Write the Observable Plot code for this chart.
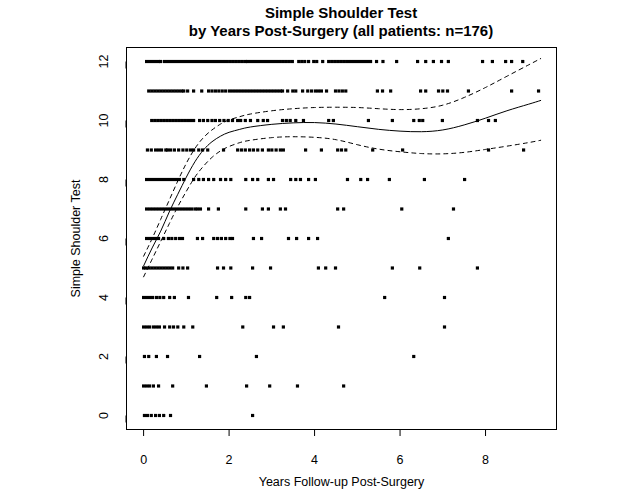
<!DOCTYPE html>
<html>
<head>
<meta charset="utf-8">
<script src="https://cdn.jsdelivr.net/npm/d3@7"></script>
<script src="https://cdn.jsdelivr.net/npm/@observablehq/plot@0.6"></script>
<style>
  html, body { margin: 0; padding: 0; background: #fff; }
  #wrap { position: relative; width: 640px; height: 491px; font-family: "Liberation Sans", Arial, sans-serif; }
  #title { position: absolute; left: 141px; width: 400px; top: 4px; text-align: center; font-weight: bold; font-size: 15px; line-height: 18px; color: #000; }
  #chart { position: absolute; left: 0; top: 0; }
</style>
</head>
<body>
<div id="wrap">
  <div id="chart"></div>
  <div id="title">Simple Shoulder Test<br>by Years Post-Surgery (all patients: n=176)</div>
</div>
<script>
// Simple Shoulder Test score levels and the follow-up years (x) of observations at each level
const row12 = [0.07,0.14,0.21,0.28,0.35,0.40,0.49,0.56,0.63,0.70,0.77,0.84,0.91,0.98,1.05,1.12,1.19,1.26,1.33,1.40,1.47,1.54,1.61,1.68,1.75,1.82,1.89,1.96,2.03,2.10,2.17,2.24,2.31,2.38,2.43,2.50,2.57,2.64,2.71,2.78,2.85,2.92,2.99,3.06,3.13,3.20,3.27,3.34,3.41,3.48,3.63,3.70,3.77,3.86,3.98,4.05,4.19,4.33,4.40,4.47,4.54,4.61,4.68,4.75,4.82,4.89,4.96,5.03,5.10,5.17,5.24,5.31,5.45,5.60,5.92,6.41,6.60,6.78,6.97,7.13,7.93,8.16,8.47,8.61,8.87];
const row11 = [0.12,0.19,0.26,0.33,0.40,0.47,0.54,0.61,0.68,0.75,0.82,0.89,0.94,1.03,1.17,1.36,1.52,1.60,1.68,1.76,1.84,1.92,2.01,2.08,2.15,2.22,2.29,2.36,2.43,2.50,2.57,2.64,2.71,2.78,2.85,2.92,2.99,3.06,3.13,3.20,3.25,3.37,3.49,3.56,3.72,3.84,3.93,4.02,4.09,4.16,4.28,4.49,4.57,4.65,4.73,5.47,5.59,5.78,6.48,6.60,6.90,7.00,7.11,7.60,8.61,9.24];
const row10 = [0.19,0.26,0.33,0.40,0.47,0.54,0.61,0.68,0.75,0.82,0.89,0.96,1.03,1.10,1.17,1.31,1.40,1.50,1.60,1.68,1.78,1.88,1.98,2.08,2.20,2.27,2.38,2.50,2.67,2.80,2.90,3.25,3.34,3.43,3.56,3.74,4.33,4.44,5.26,5.82,6.32,6.45,6.53,6.99,7.81,8.07,8.23];
const row9 = [0.09,0.18,0.28,0.35,0.42,0.52,0.56,0.63,0.72,0.82,0.92,1.01,1.10,1.17,1.29,1.38,1.50,1.87,2.20,2.29,2.38,2.48,2.57,2.67,2.78,2.92,3.00,3.10,3.20,3.27,3.79,4.16,4.54,4.63,4.73,5.36,6.06,8.07,8.89];
const row8 = [0.07,0.14,0.21,0.28,0.35,0.42,0.49,0.56,0.63,0.70,0.77,0.84,0.94,1.17,1.29,1.40,1.52,1.64,1.80,1.92,2.04,2.39,2.55,2.67,2.92,3.04,3.44,3.56,3.67,3.86,4.02,4.77,5.08,5.24,5.75,6.57,7.51];
const row7 = [0.07,0.14,0.21,0.28,0.35,0.42,0.49,0.56,0.63,0.70,0.77,0.84,0.91,0.98,1.05,1.12,1.20,1.26,1.33,1.52,1.75,2.39,2.78,2.92,3.20,3.32,4.54,4.68,6.04,7.25];
const row6 = [0.07,0.14,0.21,0.28,0.35,0.47,0.58,0.66,0.75,0.84,0.91,1.26,1.38,1.64,1.73,1.82,1.92,2.02,2.08,2.57,2.76,3.39,3.58,3.86,4.07,7.13];
const row5 = [0.00,0.05,0.12,0.19,0.26,0.33,0.40,0.47,0.54,0.61,0.68,0.82,0.92,1.03,1.73,1.87,2.04,2.55,2.97,4.09,4.26,4.49,5.82,6.46,7.81];
const row4 = [0.00,0.07,0.14,0.21,0.30,0.38,0.47,0.61,0.72,1.05,1.71,2.06,2.39,2.48,5.64,7.04];
const row3 = [0.00,0.07,0.14,0.23,0.30,0.37,0.49,0.61,0.70,0.80,0.94,1.15,2.32,3.04,3.27,4.56,7.04];
const row2 = [0.02,0.12,0.30,0.56,1.31,2.64,6.32];
const row1 = [0.00,0.07,0.14,0.23,0.35,0.68,1.47,2.41,2.95,3.60,4.68];
const row0 = [0.02,0.09,0.18,0.28,0.37,0.47,0.63,2.55];
const scoreRows = [row0,row1,row2,row3,row4,row5,row6,row7,row8,row9,row10,row11,row12];

// Smoothed fit and its confidence band
const curveX = [0,0.2,0.4,0.6,0.8,1.0,1.2,1.4,1.6,1.8,2.0,2.25,2.5,3.0,3.5,4.0,4.5,5.0,5.5,6.0,6.5,7.0,7.5,8.0,8.5,9.0,9.29];
const fitY   = [5.07,5.68,6.25,6.9,7.5,8.08,8.6,9.0,9.28,9.47,9.6,9.7,9.78,9.87,9.92,9.93,9.88,9.79,9.7,9.64,9.62,9.68,9.85,10.08,10.33,10.55,10.68];
const upperY = [5.4,6.0,6.65,7.3,7.95,8.55,9.05,9.42,9.68,9.88,10.02,10.13,10.22,10.33,10.4,10.44,10.45,10.44,10.4,10.37,10.4,10.52,10.78,11.12,11.5,11.88,12.1];
const lowerY = [4.7,5.3,5.9,6.5,7.08,7.6,8.08,8.45,8.75,8.97,9.12,9.25,9.33,9.42,9.45,9.43,9.35,9.18,9.03,8.94,8.88,8.87,8.92,9.02,9.13,9.25,9.33];

const xTicks = [0,2,4,6,8];
const yTicks = [0,2,4,6,8,10,12];

const points = scoreRows.flatMap((xs, score) => xs.map(x => ({x, score})));
const fit = curveX.map((x, i) => ({x, y: fitY[i]}));
const upper = curveX.map((x, i) => ({x, y: upperY[i]}));
const lower = curveX.map((x, i) => ({x, y: lowerY[i]}));

const chart = Plot.plot({
  width: 640,
  height: 491,
  marginLeft: 126,
  marginRight: 84,
  marginTop: 47,
  marginBottom: 62,
  style: {fontFamily: "Liberation Sans, Arial, sans-serif", fontSize: "12.5px", color: "#000", background: "#fff"},
  x: {domain: [-0.40, 9.66]},
  y: {domain: [-0.475, 12.475]},
  marks: [
    Plot.frame({stroke: "#000", strokeWidth: 1}),
    Plot.axisX({ticks: xTicks, tickSize: 7, tickPadding: 19, tickFormat: d => String(d),
      label: "Years Follow-up Post-Surgery", labelAnchor: "center", labelArrow: "none", labelOffset: 56}),
    Plot.axisY({ticks: yTicks, tickSize: 7, tickPadding: 16, tickFormat: d => String(d),
      rotate: -90, textAnchor: "middle", lineAnchor: "middle",
      label: "Simple Shoulder Test", labelAnchor: "center", labelArrow: "none", labelOffset: 55}),
    Plot.dot(points, {x: "x", y: "score", symbol: "square", r: 1.8, fill: "#000", stroke: null}),
    Plot.line(fit, {x: "x", y: "y", curve: "natural", stroke: "#000", strokeWidth: 1}),
    Plot.line(upper, {x: "x", y: "y", curve: "natural", stroke: "#000", strokeWidth: 1, strokeDasharray: "4,4"}),
    Plot.line(lower, {x: "x", y: "y", curve: "natural", stroke: "#000", strokeWidth: 1, strokeDasharray: "4,4"})
  ]
});
document.getElementById("chart").appendChild(chart);
</script>
</body>
</html>
